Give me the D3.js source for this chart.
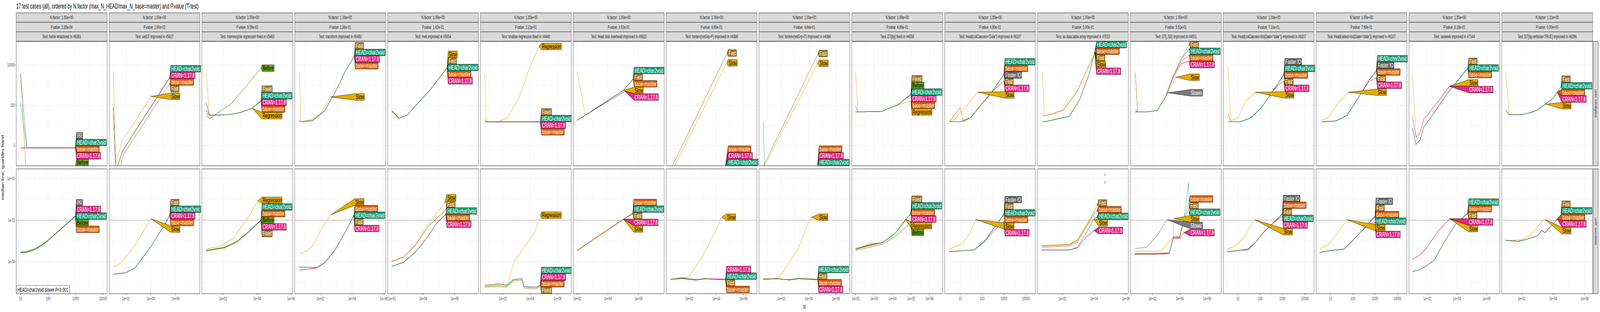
<!DOCTYPE html>
<html lang="en">
<head>
<meta charset="UTF-8">
<title>atime: 17 test cases</title>
<script src="https://cdn.jsdelivr.net/npm/d3@7"></script>
<style>
  html, body { margin: 0; padding: 0; overflow: hidden; background: #fff; }
  svg { display: block; width: 100vw; height: 100vh; font-family: "Liberation Sans", Arial, sans-serif; }
</style>
</head>
<body>
<svg id="chart" viewBox="0 0 6800 800" preserveAspectRatio="none"></svg>
<script>
// ---- labels / strips ----
const titleText = "17 test cases (all), ordered by N.factor (max_N_HEAD/max_N_base=master) and P.value (T-test)";
const testNames = [
  "fwrite refactored in #6393",
  "setDT improved in #5427",
  "memrecycle regression fixed in #5463",
  "transform improved in #5493",
  "melt improved in #5054",
  "shallow regression fixed in #4440",
  "fread disk overhead improved in #6925",
  "forderv(retGrp=F) improved in #4386",
  "forderv(retGrp=T) improved in #4386",
  "DT[by] fixed in #4558",
  "fread(colClasses=\"Date\") improved in #6107",
  "as.data.table.array improved in #7010",
  "DT[,.SD] improved in #4501",
  "fread(colClasses=list(Date=\"date\")) improved in #6107",
  "fread(select=list(Date=\"date\")) improved in #6107",
  "isoweek improved in #7144",
  "DT[by,verbose=TRUE] improved in #6296"
];
const nFactors = ["1.00e+00","1.00e+00","1.00e+00","1.00e+00","1.00e+00","1.00e+00","1.00e+00","1.00e+00","1.00e+00",
  "1.00e+00","1.00e+00","1.00e+00","1.00e+00","1.00e+00","1.00e+00","1.00e+00","1.11e+00"];
const pValues = ["2.35e-04","2.00e-02","9.09e-02","1.56e-01","1.62e-01","2.21e-01","3.52e-01","4.60e-01","4.64e-01",
  "4.69e-01","4.90e-01","5.00e-01","5.51e-01","7.14e-01","7.69e-01","8.16e-01","0.00e+00"];
const rowUnits = ["unit: kilobytes", "unit: seconds"];
const yAxisTitle = "median line, quartiles band";
const xAxisTitle = "N";
const noteText = "HEAD=char2void slower P<0.001";

// x range (N) of each column, and its major ticks
const xLimits = [[7.0, 1.4e4], [4.6, 9e7], [5.7, 1.26e6], [2.5, 1.3e6], [54, 3.3e7], [2.3, 1.0e7],
  [56, 4.7e7], [2.0, 9.8e6], [2.3, 1.05e7], [62, 5.2e6], [1.95, 2.75e4], [2.75, 1.45e6],
  [2.4, 1.1e7], [2.2, 2.63e4], [2.24, 2.69e4], [5.75, 7.8e6], [5.6, 3.2e6]];
const ticksSmall = [10, 100, 1000, 10000];
const ticksEven = [1e2, 1e4, 1e6];
const ticksFive = [1e2, 1e3, 1e4, 1e5, 1e6];
const xTickValues = [ticksSmall, ticksEven, ticksEven, ticksEven, ticksEven, ticksEven, ticksEven, ticksEven,
  ticksEven, ticksFive, ticksSmall, ticksEven, ticksEven, ticksSmall, ticksSmall, ticksEven, ticksEven];

// shared y ranges
const kbLimits = [0.098, 1.53e5];
const secLimits = [2.9e-6, 2.94];
const kbTicks = [1, 100, 10000];
const secTicks = [1, 1e-2, 1e-4];
const secThreshold = 1e-2;

// ---- versions ----
const HEAD = "HEAD=char2void", BASE = "base=master", CRAN = "CRAN=1.17.8";
const versionNames = [HEAD, BASE, CRAN, "Before", "Regression", "Fixed", "Fast", "Slow", "PR", "Faster IO", "Slower"];
const versionColors = ["#1B9E77", "#D95F02", "#E7298A", "#66A61E", "#E6AB02", "#A6761D", "#A6761D", "#E6AB02", "#666666", "#666666", "#7A7A7A"];
const darkTextVersions = ["Before", "Regression", "Slow"];

// ---- series: [version, N values, median value] ----
// 1 fwrite
const fwriteKbN = [10, 17, 1000];
const fwriteKb = [
  ["Before", fwriteKbN, [4.0e3, 0.01, 0.01]],
  [CRAN, fwriteKbN, [0.75, 0.75, 0.75]],
  [BASE, fwriteKbN, [0.76, 0.76, 0.76]],
  [HEAD, fwriteKbN, [135, 0.77, 0.77]],
  ["PR", fwriteKbN, [4.1e3, 0.78, 0.78]]
];
const fwriteSecN = [10, 17, 32, 56, 100, 316, 1000];
const fwriteSec = [
  ["Before", fwriteSecN, [2.6e-4, 2.8e-4, 3.7e-4, 5.5e-4, 1.02e-3, 3.9e-3, 1.56e-2]],
  [BASE, fwriteSecN, [2.8e-4, 3.0e-4, 4.0e-4, 6.0e-4, 1.07e-3, 4.0e-3, 1.54e-2]],
  [CRAN, fwriteSecN, [2.8e-4, 3.0e-4, 4.0e-4, 6.0e-4, 1.07e-3, 4.0e-3, 1.6e-2]],
  [HEAD, fwriteSecN, [2.8e-4, 3.0e-4, 4.0e-4, 6.0e-4, 1.07e-3, 4.0e-3, 1.58e-2]],
  ["PR", fwriteSecN, [2.9e-4, 3.1e-4, 4.1e-4, 6.2e-4, 1.1e-3, 4.1e-3, 1.62e-2]]
];
// 2 setDT
const setdtKbN = [10, 16, 56, 3.5e5];
const setdtKb = [
  ["Slow", [10, 16, 56, 350, 1.05e4], [4.5e3, 0.14, 1.9, 9.8, 280]],
  ["Fast", [10, 16, 32, 56, 3.5e5], [70, 0.03, 0.05, 0.3, 1.26e3]],
  [BASE, setdtKbN, [83, 0.05, 0.54, 2.4e3]],
  [CRAN, setdtKbN, [83, 0.05, 0.54, 2.5e3]],
  [HEAD, setdtKbN, [83, 0.05, 0.54, 2.6e3]]
];
const setdtSecN = [10, 100, 550, 1e4, 1e5, 3.5e5];
const setdtSec = [
  ["Slow", [10, 16, 40, 100, 350, 1070, 1.05e4], [5.8e-5, 6.3e-5, 8.5e-5, 1.66e-4, 4.2e-4, 1.23e-3, 1.17e-2]],
  ["Fast", setdtSecN, [2.5e-5, 2.95e-5, 5e-5, 5.1e-4, 4.7e-3, 1.8e-2]],
  [BASE, setdtSecN, [2.5e-5, 2.95e-5, 5e-5, 5.1e-4, 4.7e-3, 1.7e-2]],
  [CRAN, setdtSecN, [2.5e-5, 2.95e-5, 5e-5, 5.1e-4, 4.7e-3, 1.72e-2]],
  [HEAD, setdtSecN, [2.5e-5, 2.95e-5, 5e-5, 5.1e-4, 4.7e-3, 1.75e-2]]
];
// 3 memrecycle
const memrecycleKbN = [10, 16, 200, 1000, 5100, 1.74e4];
const memrecycleKb = [
  ["Regression", [10, 16, 200, 1000, 5100], [4.2e3, 32, 34, 43, 72]],
  ["Before", [10, 16, 320, 1.74e4], [32, 22, 126, 7.1e3]],
  [BASE, memrecycleKbN, [40, 32, 34, 43, 72, 160]],
  [CRAN, memrecycleKbN, [141, 32, 34, 43, 72, 163]],
  ["Fixed", memrecycleKbN, [60, 32, 34, 43, 72, 170]],
  [HEAD, memrecycleKbN, [141, 32, 34, 43, 72, 166]]
];
const memrecycleSecN = [10, 126, 660, 3500, 1.74e4];
const memrecycleSec = [
  ["Regression", [10, 71, 370, 2000, 6000, 1.1e4], [4e-4, 5.8e-4, 1.26e-3, 8.3e-3, 3.5e-2, 8.5e-2]],
  ["Before", memrecycleSecN, [3.2e-4, 4.6e-4, 8.8e-4, 2.8e-3, 1.0e-2]],
  [BASE, memrecycleSecN, [3.5e-4, 5e-4, 9.5e-4, 3e-3, 1.03e-2]],
  [CRAN, memrecycleSecN, [3.5e-4, 5e-4, 9.5e-4, 3e-3, 9.8e-3]],
  ["Fixed", memrecycleSecN, [3.5e-4, 5e-4, 9.5e-4, 3e-3, 9.6e-3]],
  [HEAD, memrecycleSecN, [3.5e-4, 5e-4, 9.5e-4, 3e-3, 1.05e-2]]
];
// 4 transform
const transformKbN = [4.7, 6.2, 32, 178, 1000, 3900, 1.41e4];
const transformKb = [
  ["Slow", [4.7, 6.2, 32, 117, 437], [4.6e3, 15, 20, 43, 260]],
  [BASE, transformKbN, [17, 15, 17, 50, 550, 5.2e3, 2.85e4]],
  [CRAN, transformKbN, [17, 15, 17, 50, 550, 5.2e3, 2.9e4]],
  ["Fast", transformKbN, [17, 15, 17, 50, 550, 5.2e3, 3.0e4]],
  [HEAD, transformKbN, [17, 15, 17, 50, 550, 5.2e3, 2.95e4]]
];
const transformSecN = [5, 59, 200, 890, 4000, 1.32e4];
const transformSec = [
  ["Slow", [5, 16.6, 42, 100, 460], [2.4e-4, 3.5e-4, 7.1e-4, 3e-3, 1.8e-2]],
  [BASE, transformSecN, [3.9e-5, 5e-5, 9e-5, 3.9e-4, 2.9e-3, 1.74e-2]],
  [CRAN, transformSecN, [3.9e-5, 5e-5, 9e-5, 3.9e-4, 2.9e-3, 1.68e-2]],
  ["Fast", transformSecN, [5.6e-5, 5.2e-5, 9.3e-5, 4e-4, 3e-3, 1.7e-2]],
  [HEAD, transformSecN, [5.6e-5, 5.2e-5, 9.3e-5, 4e-4, 3e-3, 1.72e-2]]
];
// 5 melt
const meltKbN = [100, 280, 910, 3e4, 3.4e5];
const meltKb = [
  ["Slow", meltKbN, [56, 23, 32, 630, 7.8e3]],
  ["Fast", meltKbN, [56, 23, 32, 630, 7.7e3]],
  [CRAN, meltKbN, [50, 23, 32, 630, 7.4e3]],
  [BASE, meltKbN, [50, 23, 32, 630, 7.5e3]],
  [HEAD, meltKbN, [50, 23, 32, 630, 7.6e3]]
];
const meltSecN = [100, 550, 3400, 2.1e4, 7.1e4, 2.8e5];
const meltSec = [
  ["Slow", [100, 550, 3400, 2.1e4, 2.4e5], [1e-4, 1.66e-4, 7.1e-4, 6.3e-3, 6.9e-2]],
  ["Fast", [100, 550, 3400, 2.1e4, 2.8e5], [1.05e-4, 1.7e-4, 6.5e-4, 5e-3, 3.2e-2]],
  [CRAN, meltSecN, [6e-5, 9.3e-5, 3e-4, 1.7e-3, 7.2e-3, 1.9e-2]],
  [BASE, meltSecN, [6e-5, 9.3e-5, 3e-4, 1.7e-3, 7.2e-3, 1.95e-2]],
  [HEAD, meltSecN, [6e-5, 9.3e-5, 3e-4, 1.7e-3, 7.2e-3, 2.0e-2]]
];
// 6 shallow
const shallowKbN = [4.8, 6, 5.6e4];
const shallowKb = [
  ["Regression", [4.8, 6, 46, 200, 1580, 7400, 4.3e4], [3.9e3, 15, 15, 23, 260, 5.2e3, 8.5e4]],
  [BASE, shallowKbN, [15, 14.7, 14.7]],
  [CRAN, shallowKbN, [15, 14.9, 14.9]],
  ["Fixed", shallowKbN, [15, 15.3, 15.3]],
  [HEAD, shallowKbN, [20, 15.1, 15.1]]
];
const shallowSecN = [4.6, 52, 200, 600, 2500, 3600, 2.8e4, 5.6e4];
const shallowSec = [
  ["Regression", [4.6, 52, 200, 600, 5000, 2e4, 5.6e4], [5.9e-6, 6.3e-6, 5.9e-6, 8.7e-5, 7.1e-4, 2.3e-3, 1.74e-2]],
  ["Fixed", shallowSecN, [6.3e-6, 7.2e-6, 6.3e-6, 1.2e-5, 1.3e-5, 5.4e-6, 5.0e-6, 7.0e-6]],
  [BASE, shallowSecN, [7.4e-6, 8.5e-6, 7.4e-6, 1.4e-5, 1.5e-5, 6.3e-6, 5.9e-6, 7.4e-6]],
  [CRAN, shallowSecN, [7.4e-6, 8.5e-6, 7.4e-6, 1.4e-5, 1.5e-5, 6.3e-6, 5.9e-6, 7.6e-6]],
  [HEAD, shallowSecN, [7.4e-6, 8.5e-6, 7.4e-6, 1.4e-5, 1.5e-5, 6.3e-6, 5.9e-6, 7.8e-6]]
];
// 7 fread disk overhead
const diskKbN = [100, 330, 1.05e5, 4.5e5];
const diskKb = [
  ["Slow", [100, 330, 1.05e5], [4.7e3, 32, 560]],
  [CRAN, [100, 330, 1.26e5], [18, 32, 500]],
  [BASE, diskKbN, [18, 32, 560, 1.95e3]],
  ["Fast", diskKbN, [18, 32, 560, 2.0e3]],
  [HEAD, diskKbN, [18, 32, 560, 2.1e3]]
];
const diskSecN = [100, 1.07e5, 4.3e5];
const diskSec = [
  ["Slow", [100, 1.07e5], [3.5e-4, 1.1e-2]],
  [CRAN, [100, 1.07e5], [3.5e-4, 1.13e-2]],
  ["Fast", diskSecN, [3.5e-4, 1.12e-2, 2.0e-2]],
  [HEAD, diskSecN, [3.5e-4, 1.12e-2, 2.1e-2]],
  [BASE, diskSecN, [3.5e-4, 1.12e-2, 2.2e-2]]
];
// 8 forderv(retGrp=F)
const retgrpFKb = [
  ["Slow", [4.2, 5.9e4], [0.04, 1.3e4]],
  ["Fast", [4.2, 6.3e4], [0.063, 4e4]],
  [BASE, [4.2, 4.7e4], [0.024, 0.024]],
  [CRAN, [4.2, 4.7e4], [0.025, 0.025]],
  [HEAD, [4.2, 4.7e4], [0.026, 0.026]]
];
const retgrpFSecN = [4.2, 30, 300, 1500, 8000, 4.8e4];
const retgrpFSec = [
  ["Slow", [4.2, 87, 500, 2000, 8500, 2.4e4], [1.5e-5, 1.8e-5, 9.3e-5, 4.6e-4, 3e-3, 1.38e-2]],
  [BASE, retgrpFSecN, [1.4e-5, 1.6e-5, 1.3e-5, 1.5e-5, 1.4e-5, 1.35e-5]],
  ["Fast", retgrpFSecN, [1.4e-5, 1.5e-5, 1.3e-5, 1.6e-5, 1.4e-5, 1.38e-5]],
  [CRAN, retgrpFSecN, [1.4e-5, 1.7e-5, 1.3e-5, 1.5e-5, 1.5e-5, 1.45e-5]],
  [HEAD, retgrpFSecN, [1.4e-5, 1.6e-5, 1.4e-5, 1.5e-5, 1.4e-5, 1.42e-5]]
];
// 9 forderv(retGrp=T)
const retgrpTKb = [
  ["Slow", [4.7, 4.6e4], [0.072, 1.23e4]],
  ["Fast", [4.7, 5e4], [0.09, 3.8e4]],
  [BASE, [4.7, 4.6e4], [0.024, 0.024]],
  [CRAN, [4.7, 4.6e4], [0.025, 0.025]],
  [HEAD, [4.7, 6.3, 4.6e4], [15, 0.026, 0.026]]
];
const retgrpTSecN = [4.6, 40, 400, 2000, 1e4, 4.7e4];
const retgrpTSec = [
  ["Slow", [4.6, 60, 350, 2000, 8300, 1.66e4], [1.4e-5, 1.6e-5, 8.1e-5, 5.4e-4, 6.3e-3, 1.38e-2]],
  [CRAN, retgrpTSecN, [1.4e-5, 1.5e-5, 1.35e-5, 1.6e-5, 1.4e-5, 1.35e-5]],
  [BASE, retgrpTSecN, [1.4e-5, 1.6e-5, 1.3e-5, 1.5e-5, 1.4e-5, 1.38e-5]],
  ["Fast", retgrpTSecN, [1.5e-5, 1.5e-5, 1.4e-5, 1.6e-5, 1.5e-5, 1.42e-5]],
  [HEAD, retgrpTSecN, [1.4e-5, 1.5e-5, 1.35e-5, 1.6e-5, 1.4e-5, 1.45e-5]]
];
// 10 DT[by]
const byKbN = [100, 130, 2600, 1.95e4, 1e5];
const byKb = [
  ["Regression", byKbN, [4.3e3, 47, 50, 107, 160]],
  ["Before", byKbN, [47, 47, 50, 107, 360]],
  [BASE, byKbN, [47, 47, 50, 107, 345]],
  [CRAN, byKbN, [47, 47, 50, 107, 350]],
  ["Fixed", byKbN, [47, 47, 50, 107, 370]],
  [HEAD, byKbN, [93, 47, 50, 107, 355]]
];
const bySecN = [100, 590, 2800, 1.35e4, 5e4, 9.8e4];
const bySec = [
  ["Regression", [100, 590, 2800, 1.35e4, 5e4], [4.5e-4, 6e-4, 8.3e-4, 2.3e-3, 1.12e-2]],
  ["Before", bySecN, [3.5e-4, 5e-4, 7e-4, 1.6e-3, 4.5e-3, 9e-3]],
  [CRAN, bySecN, [4e-4, 6e-4, 8.3e-4, 2.3e-3, 1e-2, 2.0e-2]],
  [BASE, bySecN, [4e-4, 6e-4, 8.3e-4, 2.3e-3, 1e-2, 2.05e-2]],
  ["Fixed", bySecN, [4e-4, 6.5e-4, 8.3e-4, 2.3e-3, 1e-2, 2.15e-2]],
  [HEAD, bySecN, [4e-4, 7.1e-4, 8.3e-4, 2.3e-3, 1e-2, 2.1e-2]]
];
// 11 fread(colClasses="Date")
const dateKbN = [3.2, 10, 29, 115, 355, 1000];
const dateKb = [
  ["Slow", [3.2, 5.4, 22, 60], [15, 20, 107, 450]],
  [CRAN, dateKbN, [15, 15, 24, 140, 600, 1.6e3]],
  ["Faster IO", dateKbN, [15, 15, 24, 145, 660, 3.5e3]],
  ["Fast", dateKbN, [15, 15, 24, 145, 660, 3.45e3]],
  [BASE, [3.2, 10, 14, 29, 115, 355, 1000], [15, 80, 15, 24, 145, 660, 3.55e3]],
  [HEAD, dateKbN, [15, 15, 24, 145, 660, 3.6e3]]
];
const dateSecN = [3.1, 18, 43, 126, 380, 1000];
const dateSec = [
  ["Slow", [3.1, 11.5, 27.5, 52], [4e-4, 7.1e-4, 2.3e-3, 1.05e-2]],
  [CRAN, dateSecN, [3e-4, 3.5e-4, 3.7e-4, 9e-4, 3.5e-3, 8.9e-3]],
  ["Faster IO", dateSecN, [3e-4, 3.5e-4, 3.7e-4, 9.5e-4, 4.7e-3, 2.05e-2]],
  ["Fast", dateSecN, [3e-4, 3.5e-4, 3.7e-4, 9.5e-4, 4.7e-3, 2.0e-2]],
  [BASE, dateSecN, [3e-4, 3.5e-4, 3.7e-4, 9.5e-4, 4.7e-3, 1.9e-2]],
  [HEAD, dateSecN, [3e-4, 3.5e-4, 3.7e-4, 9.5e-4, 4.7e-3, 1.95e-2]]
];
// 12 as.data.table.array
const arrayKbN = [5.5, 7.4, 25, 120, 850, 4000, 1.26e4];
const arrayHeadN = [5.5, 7.4, 270, 1260, 5100, 1.1e4];
const arrayKb = [
  ["Slow", arrayKbN, [4.3e3, 30, 38, 59, 490, 7.2e3, 4.5e4]],
  [BASE, arrayKbN, [30, 30, 38, 59, 490, 7.2e3, 4.7e4]],
  [CRAN, arrayHeadN, [15, 15, 28, 195, 4e3, 4.4e4]],
  ["Fast", arrayHeadN, [15, 15, 28, 195, 4e3, 4.6e4]],
  [HEAD, arrayHeadN, [15, 15, 28, 195, 4e3, 4.8e4]]
];
const arraySec = [
  ["Slow", [5, 14, 275, 910, 3100, 1e4], [6e-4, 6.2e-4, 6.8e-4, 1.15e-3, 5.3e-3, 1.12e-2]],
  ["Fast", [5, 14, 275, 910, 3100, 7600, 1.66e4], [5.8e-4, 6e-4, 6.6e-4, 1.1e-3, 5.5e-3, 1.74e-2, 5.5e-2]],
  [BASE, [5, 14, 275, 910, 3100, 7600, 1.5e4], [5e-4, 5.2e-4, 5.8e-4, 9e-4, 4.5e-3, 1.5e-2, 2.8e-2]],
  [CRAN, [5, 275, 910, 3100, 1e4], [3.6e-4, 3.6e-4, 4.6e-4, 1.5e-3, 3.2e-3]],
  [HEAD, [5, 275, 910, 3100, 1e4, 1.5e4], [3.7e-4, 3.7e-4, 5e-4, 2.3e-3, 1.2e-2, 1.4e-2]]
];
// 13 DT[,.SD]
const sdKbN = [5.5, 8.1, 36, 224, 890, 3400, 1.32e4, 5e4];
const sdKb = [
  ["Slower", [5.5, 8.1, 36, 224, 1380], [47, 47, 47, 55, 420]],
  ["Slow", [5.5, 8.1, 36, 224, 890, 5200], [4.3e3, 47, 47, 55, 260, 2.5e3]],
  [CRAN, sdKbN, [47, 47, 47, 55, 250, 2.5e3, 1.2e4, 1.6e4]],
  [BASE, sdKbN, [47, 47, 47, 55, 260, 3e3, 1.6e4, 3.2e4]],
  ["Fast", sdKbN, [4.3e3, 47, 47, 55, 260, 3e3, 2.1e4, 1.1e5]],
  [HEAD, sdKbN, [60, 47, 47, 55, 260, 3e3, 2.1e4, 6.3e4]]
];
const sdSecN = [5.1, 100, 1660, 3400, 9800, 2e4, 4.9e4];
const sdSec = [
  ["Slower", [5.1, 37, 204, 1170], [4.3e-4, 5e-4, 1.7e-3, 1.05e-2]],
  ["Slow", [5.1, 417, 1660, 3400, 3800], [3.2e-4, 3.2e-4, 9.5e-4, 1.6e-3, 1.2e-2]],
  [CRAN, [5.1, 100, 1660, 3400, 9800, 2e4], [2.3e-4, 2.3e-4, 2.4e-4, 1.4e-3, 1.3e-3, 2.5e-3]],
  ["Fast", sdSecN, [2.5e-4, 2.5e-4, 2.7e-4, 1.3e-3, 1.5e-3, 1e-2, 4e-2]],
  [BASE, sdSecN, [2.3e-4, 2.3e-4, 2.5e-4, 1.5e-3, 1.7e-3, 1.2e-2, 8e-2]],
  [HEAD, [5.1, 100, 1660, 3400, 9800, 2e4, 4.3e4, 4.9e4], [2.4e-4, 2.4e-4, 2.6e-4, 1.6e-3, 1.4e-3, 9.8e-3, 0.65, 2e-2]]
];
// 14 fread(colClasses=list(Date="date"))
const listKbN = [3.6, 13, 38, 117, 350, 690, 1170];
const listKb = [
  ["Slow", [3.6, 4.8, 10, 23, 60], [7.9e3, 17, 24, 166, 450]],
  [CRAN, [3.6, 4.8, 13, 38, 117, 350, 690, 1170], [38, 15, 15, 24, 79, 480, 1.1e3, 1.6e3]],
  ["Fast", listKbN, [15, 15, 24, 79, 480, 1.38e3, 3.45e3]],
  [BASE, listKbN, [15, 15, 24, 79, 480, 1.38e3, 3.5e3]],
  ["Faster IO", listKbN, [15, 15, 24, 79, 480, 1.38e3, 3.6e3]],
  [HEAD, listKbN, [15, 15, 24, 79, 480, 1.38e3, 3.55e3]]
];
const listSecN = [3.3, 15, 29, 68, 160, 380, 1000];
const listSec = [
  ["Slow", [3.3, 7.9, 18.6, 44, 58], [4e-4, 5.8e-4, 1.48e-3, 7.2e-3, 1.05e-2]],
  [CRAN, listSecN, [3e-4, 3.7e-4, 3.7e-4, 9.5e-4, 3e-3, 7.2e-3, 1.6e-2]],
  ["Faster IO", listSecN, [3e-4, 3.7e-4, 4.2e-4, 9.5e-4, 3e-3, 7.2e-3, 2.1e-2]],
  ["Fast", listSecN, [3e-4, 3.7e-4, 3.7e-4, 9.5e-4, 3e-3, 7.2e-3, 2.0e-2]],
  [BASE, listSecN, [3e-4, 3.7e-4, 3.7e-4, 9.5e-4, 3e-3, 7.2e-3, 2.05e-2]],
  [HEAD, listSecN, [3e-4, 3.7e-4, 3.7e-4, 9.5e-4, 3e-3, 7.2e-3, 1.95e-2]]
];
// 15 fread(select=list(Date="date"))
const selectKbN = [3.9, 18, 55, 170, 500, 1150];
const selectKb = [
  ["Slow", [3.9, 7.9, 24, 62], [18, 24, 145, 450]],
  [CRAN, selectKbN, [15, 16.6, 32, 220, 1.4e3, 2.4e3]],
  ["Fast", selectKbN, [15, 16.6, 32, 220, 1.6e3, 5.2e3]],
  [BASE, selectKbN, [15, 16.6, 32, 220, 1.6e3, 5.3e3]],
  ["Faster IO", selectKbN, [15, 16.6, 32, 220, 1.6e3, 5.4e3]],
  [HEAD, selectKbN, [15, 16.6, 32, 220, 1.6e3, 5.5e3]]
];
const selectSecN = [3.2, 10.7, 39, 91, 220, 510, 1000];
const selectSec = [
  ["Slow", [3.2, 8.5, 20, 55], [4e-4, 7.1e-4, 2.3e-3, 1.05e-2]],
  [CRAN, selectSecN, [2.75e-4, 3.5e-4, 4e-4, 9.5e-4, 2.6e-3, 6e-3, 8e-3]],
  ["Faster IO", selectSecN, [2.75e-4, 3.5e-4, 4e-4, 9.5e-4, 2.6e-3, 7.2e-3, 1.6e-2]],
  ["Fast", selectSecN, [2.75e-4, 3.5e-4, 4e-4, 9.5e-4, 2.6e-3, 7.2e-3, 1.55e-2]],
  [BASE, selectSecN, [2.75e-4, 3.5e-4, 4e-4, 9.5e-4, 2.6e-3, 7.2e-3, 1.5e-2]],
  [HEAD, selectSecN, [2.75e-4, 3.5e-4, 4e-4, 9.5e-4, 2.6e-3, 7.2e-3, 1.45e-2]]
];
// 16 isoweek
const isoweekKbN = [10, 17, 32, 58, 100, 3200, 5.5e4];
const isoweekKb = [
  ["Slow", [10, 17, 32, 58, 100, 3200], [4.1e3, 2.6, 4.2, 21, 32, 900]],
  [CRAN, [10, 17, 32, 58, 100, 3200], [26, 2.6, 4.2, 21, 32, 880]],
  [BASE, isoweekKbN, [7.1, 1.15, 1.86, 8.5, 14, 550, 7.0e3]],
  ["Fast", isoweekKbN, [7.1, 1.15, 1.86, 8.5, 14, 550, 7.4e3]],
  [HEAD, isoweekKbN, [7.1, 1.15, 1.86, 8.5, 14, 550, 7.2e3]]
];
const isoweekSecN = [10, 32, 100, 320, 1300, 8900, 5.4e4];
const isoweekSec = [
  ["Slow", [10, 32, 100, 460, 3200], [1.3e-4, 2.1e-4, 5.1e-4, 2.6e-3, 1.15e-2]],
  [CRAN, [10, 32, 100, 460, 3200], [1.3e-4, 2.1e-4, 5.1e-4, 2.6e-3, 1.18e-2]],
  ["Fast", isoweekSecN, [3.4e-5, 4.1e-5, 6.8e-5, 1.3e-4, 8.3e-4, 6.9e-3, 2.1e-2]],
  [BASE, isoweekSecN, [3.4e-5, 4.1e-5, 6.8e-5, 1.3e-4, 8.3e-4, 6.9e-3, 2.2e-2]],
  [HEAD, isoweekSecN, [3.4e-5, 4.1e-5, 6.8e-5, 1.3e-4, 8.3e-4, 6.9e-3, 2.3e-2]]
];
// 17 DT[by,verbose=TRUE]
const verboseKbN = [10, 17, 105, 525, 1070, 3200, 1e4, 1.86e4, 3.2e4];
const verboseKb = [
  ["Slow", [10, 17, 105, 525, 1070, 3200], [4.1e3, 34, 34, 47, 60, 115]],
  [CRAN, verboseKbN.slice(0, 8), [56, 34, 34, 47, 60, 115, 224, 455]],
  [BASE, verboseKbN.slice(0, 8), [56, 34, 34, 47, 60, 115, 224, 460]],
  ["Fast", verboseKbN, [56, 34, 34, 47, 60, 115, 224, 460, 820]],
  [HEAD, verboseKbN, [56, 34, 34, 47, 60, 115, 224, 460, 810]]
];
const verboseSecN = [10, 60, 180, 1070, 1860, 3200, 6500, 1.86e4, 3.2e4];
const verboseSec = [
  ["Slow", [10, 17, 105, 355, 980, 1860, 3200], [1.07e-3, 1.05e-3, 1.15e-3, 2e-3, 4.3e-3, 8.3e-3, 1.08e-2]],
  [CRAN, verboseSecN.slice(0, 8), [1.07e-3, 9.5e-4, 1.15e-3, 1.78e-3, 3.2e-3, 2.5e-3, 4.7e-3, 1.1e-2]],
  [BASE, verboseSecN.slice(0, 8), [1.07e-3, 9.5e-4, 1.15e-3, 1.78e-3, 3.2e-3, 2.5e-3, 4.7e-3, 1.15e-2]],
  ["Fast", verboseSecN, [1.07e-3, 9.5e-4, 1.15e-3, 1.78e-3, 3.2e-3, 2.5e-3, 4.7e-3, 1.12e-2, 1.85e-2]],
  [HEAD, verboseSecN, [1.07e-3, 9.5e-4, 1.15e-3, 1.78e-3, 3.2e-3, 2.5e-3, 4.7e-3, 1.12e-2, 1.8e-2]]
];

// single slow timings drawn as circles: [column, row, version, N, value]
const outliers = [
  [12, 1, BASE, 4.9e4, 1.55],
  [12, 1, BASE, 4.9e4, 0.65],
  [15, 1, BASE, 5.5e4, 0.3]
];

const panelSeries = [
  [fwriteKb, fwriteSec], [setdtKb, setdtSec], [memrecycleKb, memrecycleSec], [transformKb, transformSec],
  [meltKb, meltSec], [shallowKb, shallowSec], [diskKb, diskSec], [retgrpFKb, retgrpFSec],
  [retgrpTKb, retgrpTSec], [byKb, bySec], [dateKb, dateSec], [arrayKb, arraySec],
  [sdKb, sdSec], [listKb, listSec], [selectKb, selectSec], [isoweekKb, isoweekSec], [verboseKb, verboseSec]
];

// ---- layout ----
const panelX0 = 69, panelStep = 394.6, panelW = 386;
const rows = [{ top: 106, bottom: 425 }, { top: 433, bottom: 753 }];
const stripTop = 33, stripH = 24.3;
const labelH = 17;

const colorOf = v => versionColors[versionNames.indexOf(v)];

function sciLabel(v) {
  const e = Math.round(Math.log10(v));
  return "1e" + (e < 0 ? "-" : "+") + String(Math.abs(e)).padStart(2, "0");
}
function tickFormat(ticks) {
  return d3.max(ticks) < 1e5 && d3.min(ticks) >= 1 ? (v => String(v)) : sciLabel;
}
// midpoints between log ticks, ggplot style minor breaks
function minorBreaks(ticks, domain) {
  const lt = ticks.map(Math.log10);
  const step = lt[1] - lt[0];
  const lo = Math.log10(domain[0]), hi = Math.log10(domain[1]);
  const out = [];
  for (let m = lt[0] - step / 2; m >= lo; m -= step) out.push(Math.pow(10, m));
  for (let m = lt[0] + step / 2; m <= hi; m += step) out.push(Math.pow(10, m));
  return out;
}

// stack label boxes without overlap, keep them inside the panel
function stackLabels(items, top, bottom) {
  items.sort((a, b) => a.target - b.target);
  const blocks = [];
  items.forEach(it => {
    blocks.push({ items: [it], start: it.target });
    while (blocks.length > 1) {
      const b = blocks[blocks.length - 1], a = blocks[blocks.length - 2];
      if (a.start + a.items.length * labelH <= b.start) break;
      const merged = a.items.concat(b.items);
      const start = d3.mean(merged, (d, k) => d.target - k * labelH);
      blocks.splice(-2, 2, { items: merged, start });
    }
  });
  blocks.forEach(b => b.items.forEach((d, k) => { d.y = b.start + k * labelH; }));
  items.forEach((d, k) => {
    d.y = Math.max(d.y, top + labelH / 2);
    if (k > 0) d.y = Math.max(d.y, items[k - 1].y + labelH);
  });
  for (let k = items.length - 1; k >= 0; k--) {
    items[k].y = Math.min(items[k].y, bottom - labelH / 2);
    if (k < items.length - 1) items[k].y = Math.min(items[k].y, items[k + 1].y - labelH);
  }
}

const svg = d3.select("#chart");
svg.append("rect").attr("width", 6800).attr("height", 800).attr("fill", "#fff");

svg.append("text").attr("x", 69).attr("y", 22).attr("font-size", 18).attr("fill", "#000").text(titleText);

const yScales = [
  d3.scaleLog().domain(kbLimits).range([rows[0].bottom, rows[0].top]),
  d3.scaleLog().domain(secLimits).range([rows[1].bottom, rows[1].top])
];
const yMajor = [kbTicks, secTicks];
const yMinor = [[0.1, 10, 1000, 1e5], [0.1, 1e-3, 1e-5]];
const yFormat = [v => String(v), sciLabel];

const defs = svg.append("defs");

testNames.forEach((name, i) => {
  const left = panelX0 + i * panelStep;
  const x = d3.scaleLog().domain(xLimits[i]).range([left, left + panelW]);
  const xMinor = minorBreaks(xTickValues[i], xLimits[i]);

  // strips on top
  const stripTexts = ["N.factor: " + nFactors[i], "P.value: " + pValues[i], "Test: " + name];
  stripTexts.forEach((t, k) => {
    const sy = stripTop + k * stripH;
    svg.append("rect").attr("x", left).attr("y", sy).attr("width", panelW).attr("height", stripH)
      .attr("fill", "#D9D9D9").attr("stroke", "#333333").attr("stroke-width", 1.1);
    svg.append("text").attr("x", left + panelW / 2).attr("y", sy + stripH / 2 + 4.2)
      .attr("text-anchor", "middle").attr("font-size", 12).attr("fill", "#1A1A1A").text(t);
  });

  rows.forEach((r, ri) => {
    const y = yScales[ri];
    const clipId = `clip-${i}-${ri}`;
    defs.append("clipPath").attr("id", clipId).append("rect")
      .attr("x", left).attr("y", r.top).attr("width", panelW).attr("height", r.bottom - r.top);

    const g = svg.append("g");
    const grid = g.append("g");
    grid.selectAll(".xminor").data(xMinor).join("line")
      .attr("x1", d => x(d)).attr("x2", d => x(d)).attr("y1", r.top).attr("y2", r.bottom)
      .attr("stroke", "#EBEBEB").attr("stroke-width", 0.6);
    grid.selectAll(".yminor").data(yMinor[ri]).join("line")
      .attr("x1", left).attr("x2", left + panelW).attr("y1", d => y(d)).attr("y2", d => y(d))
      .attr("stroke", "#EBEBEB").attr("stroke-width", 0.6);
    grid.selectAll(".xmajor").data(xTickValues[i]).join("line")
      .attr("x1", d => x(d)).attr("x2", d => x(d)).attr("y1", r.top).attr("y2", r.bottom)
      .attr("stroke", "#EBEBEB").attr("stroke-width", 1.2);
    grid.selectAll(".ymajor").data(yMajor[ri]).join("line")
      .attr("x1", left).attr("x2", left + panelW).attr("y1", d => y(d)).attr("y2", d => y(d))
      .attr("stroke", "#EBEBEB").attr("stroke-width", 1.2);

    if (ri === 1) {
      g.append("line").attr("x1", left).attr("x2", left + panelW)
        .attr("y1", y(secThreshold)).attr("y2", y(secThreshold))
        .attr("stroke", "#B3B3B3").attr("stroke-width", 1.5);
    }

    const series = panelSeries[i][ri];
    const line = d3.line().x(d => x(d[0])).y(d => y(d[1]));
    const plot = g.append("g").attr("clip-path", `url(#${clipId})`);
    series.forEach(([version, ns, vals]) => {
      plot.append("path").datum(ns.map((n, k) => [n, vals[k]]))
        .attr("d", line).attr("fill", "none")
        .attr("stroke", colorOf(version)).attr("stroke-width", 1.3)
        .attr("stroke-linejoin", "round");
    });
    outliers.filter(o => o[0] === i + 1 && o[1] === ri).forEach(o => {
      plot.append("circle").attr("cx", x(o[3])).attr("cy", y(o[4])).attr("r", 3)
        .attr("fill", "none").attr("stroke", colorOf(o[2])).attr("stroke-width", 1);
    });

    // direct labels at the end of each line
    const items = series.map(([version, ns, vals]) => {
      const px = x(ns[ns.length - 1]);
      const py = Math.max(r.top, Math.min(r.bottom, y(vals[vals.length - 1])));
      return { version, px, py, target: py };
    });
    const boxX = d3.max(items, d => d.px) + 4;
    stackLabels(items, r.top, r.bottom);
    items.forEach(d => {
      const lab = g.append("g");
      const poly = lab.append("polygon");
      const txt = lab.append("text").attr("x", boxX + 2).attr("y", d.y + 5.8)
        .attr("font-size", 16)
        .attr("fill", darkTextVersions.includes(d.version) ? "#000" : "#fff")
        .text(d.version);
      const w = txt.node().getComputedTextLength() + 4;
      const h2 = labelH / 2;
      poly.attr("points", [[d.px, d.py], [boxX, d.y - h2], [boxX + w, d.y - h2], [boxX + w, d.y + h2], [boxX, d.y + h2]]
          .map(p => p.join(",")).join(" "))
        .attr("fill", colorOf(d.version)).attr("stroke", "#000").attr("stroke-width", 0.9)
        .attr("stroke-linejoin", "miter");
    });

    g.append("rect").attr("x", left).attr("y", r.top).attr("width", panelW).attr("height", r.bottom - r.top)
      .attr("fill", "none").attr("stroke", "#333333").attr("stroke-width", 1.1);

    // y axis on the first column
    if (i === 0) {
      const ax = svg.append("g");
      yMajor[ri].forEach(v => {
        ax.append("line").attr("x1", left - 3.5).attr("x2", left).attr("y1", y(v)).attr("y2", y(v))
          .attr("stroke", "#333333").attr("stroke-width", 1);
        ax.append("text").attr("x", left - 5.5).attr("y", y(v) + 4.2).attr("text-anchor", "end")
          .attr("font-size", 12).attr("fill", "#4D4D4D").text(yFormat[ri](v));
      });
    }
    // x axis under the bottom row
    if (ri === 1) {
      const fmt = tickFormat(xTickValues[i]);
      const ax = svg.append("g");
      xTickValues[i].forEach(v => {
        ax.append("line").attr("x1", x(v)).attr("x2", x(v)).attr("y1", r.bottom).attr("y2", r.bottom + 3.5)
          .attr("stroke", "#333333").attr("stroke-width", 1);
        ax.append("text").attr("x", x(v)).attr("y", r.bottom + 17.5).attr("text-anchor", "middle")
          .attr("font-size", 12).attr("fill", "#4D4D4D").text(fmt(v));
      });
    }
  });
});

// unit strips on the right
rows.forEach((r, ri) => {
  svg.append("rect").attr("x", 6771).attr("y", r.top).attr("width", 22).attr("height", r.bottom - r.top)
    .attr("fill", "#D9D9D9").attr("stroke", "#333333").attr("stroke-width", 1.1);
  const cy = (r.top + r.bottom) / 2;
  svg.append("text").attr("transform", `translate(6782,${cy}) rotate(90)`)
    .attr("text-anchor", "middle").attr("dy", "0.35em").attr("font-size", 12).attr("fill", "#1A1A1A")
    .text(rowUnits[ri]);
});

// note on the first panel
const noteG = svg.append("g");
const noteRect = noteG.append("rect");
const noteTxt = noteG.append("text").attr("x", 74).attr("y", 748).attr("font-size", 14.5).attr("fill", "#000").text(noteText);
noteRect.attr("x", 69.5).attr("y", 732).attr("width", noteTxt.node().getComputedTextLength() + 10).attr("height", 21)
  .attr("rx", 2).attr("fill", "#fff").attr("stroke", "#000").attr("stroke-width", 0.8);

// axis titles
svg.append("text").attr("transform", `translate(17,${(rows[0].top + rows[1].bottom) / 2}) rotate(-90)`)
  .attr("text-anchor", "middle").attr("font-size", 14).attr("fill", "#000").text(yAxisTitle);
svg.append("text").attr("x", (panelX0 + panelX0 + 16 * panelStep + panelW) / 2).attr("y", 792)
  .attr("text-anchor", "middle").attr("font-size", 14).attr("fill", "#000").text(xAxisTitle);
</script>
</body>
</html>
